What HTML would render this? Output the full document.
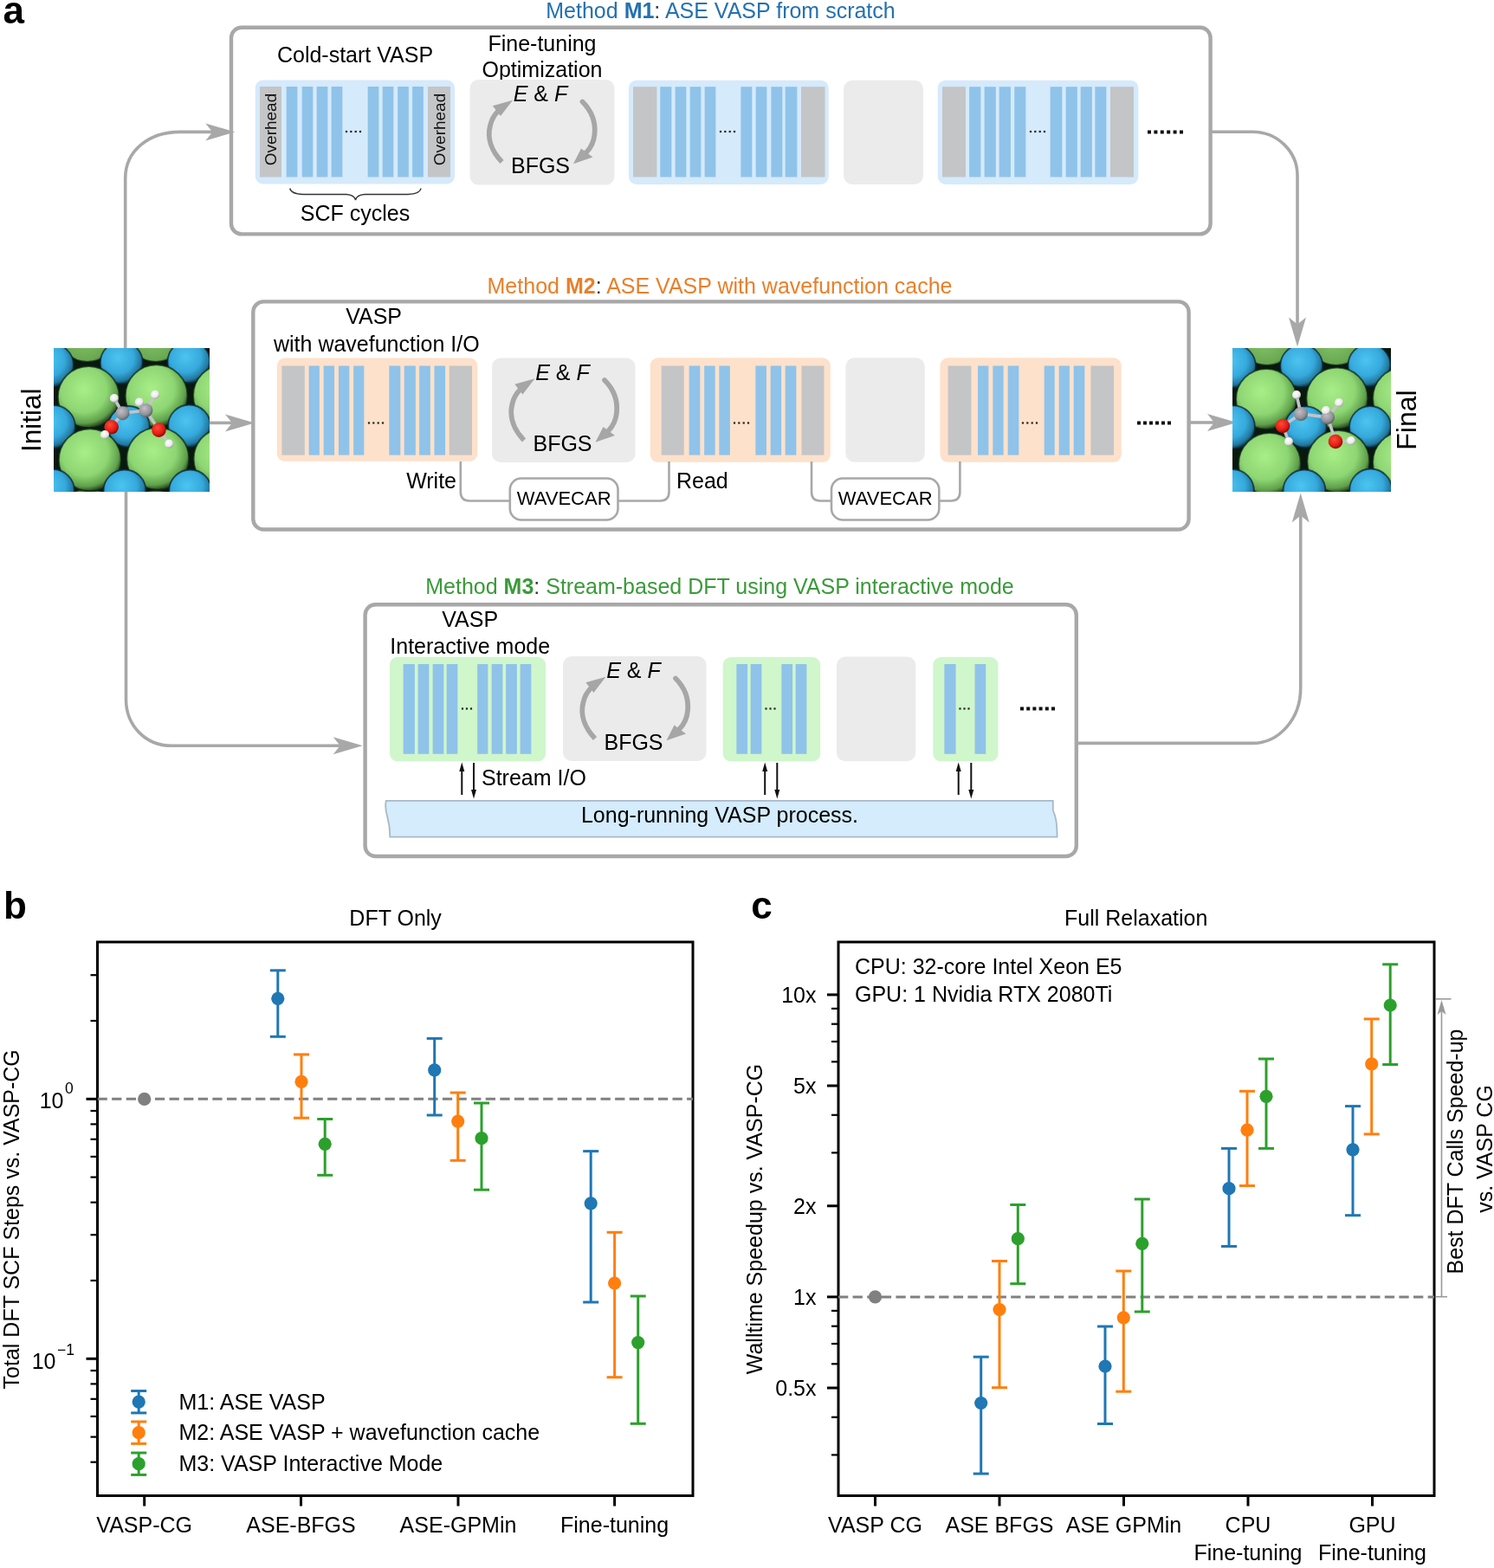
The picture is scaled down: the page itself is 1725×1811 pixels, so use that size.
<!DOCTYPE html>
<html><head><meta charset="utf-8"><title>Figure</title>
<style>html,body{margin:0;padding:0;background:#fff;} svg{display:block;} text{font-family:'Liberation Sans', Arial, sans-serif;}</style>
</head><body>
<svg width="1725" height="1811" viewBox="0 0 1725 1811">
<rect width="1725" height="1811" fill="#fff"/>
<text x="3.5" y="26.5" font-size="44" text-anchor="start" fill="#000" font-weight="bold" font-style="normal" >a</text>
<g fill="none" stroke="#a8a8a8" stroke-width="3.6">
<path d="M144.7,402 L144.7,206 C144.7,174 172,152.4 207.7,152.4 L248,152.4"/>
<path d="M242,488.4 L270,488.4"/>
<path d="M145.5,568 L145.5,807.8 C145.5,838 168,861.3 198,861.3 L395,861.3"/>
<path d="M1398,152.3 L1446,152.3 C1475,152.3 1498,175 1498,202.8 L1498,380"/>
<path d="M1373,488 L1405,488"/>
<path d="M1243,858.4 L1446,858.4 C1477,858.4 1501.7,830 1501.7,795 L1501.7,590"/>
</g>
<path d="M271.3,152.4 L237.3,142.4 L245.3,152.4 L237.3,162.4 Z" fill="#a8a8a8"/>
<path d="M294.0,488.4 L260.0,478.4 L268.0,488.4 L260.0,498.4 Z" fill="#a8a8a8"/>
<path d="M418.7,861.3 L384.7,851.3 L392.7,861.3 L384.7,871.3 Z" fill="#a8a8a8"/>
<path d="M1498.0,400.5 L1488.0,366.5 L1498.0,374.5 L1508.0,366.5 Z" fill="#a8a8a8"/>
<path d="M1428.0,488.0 L1394.0,478.0 L1402.0,488.0 L1394.0,498.0 Z" fill="#a8a8a8"/>
<path d="M1501.7,569.6 L1491.7,603.6 L1501.7,595.6 L1511.7,603.6 Z" fill="#a8a8a8"/>
<rect x="267" y="31.7" width="1130.6" height="238.7" rx="12" fill="none" stroke="#a8a8a8" stroke-width="4.4"/>
<rect x="292.3" y="348.4" width="1080.3" height="263.1" rx="12" fill="none" stroke="#a8a8a8" stroke-width="4.4"/>
<rect x="421.6" y="698.3" width="821.1999999999999" height="290.70000000000005" rx="12" fill="none" stroke="#a8a8a8" stroke-width="4.4"/>
<text x="832" y="21.2" font-size="25" text-anchor="middle" fill="#2471b0">Method <tspan font-weight="bold">M1</tspan><tspan fill="#333">:</tspan> ASE VASP from scratch</text>
<text x="831" y="339" font-size="25" text-anchor="middle" fill="#e8802c">Method <tspan font-weight="bold">M2</tspan><tspan fill="#333">:</tspan> ASE VASP with wavefunction cache</text>
<text x="831" y="686" font-size="25" text-anchor="middle" fill="#3a9a3a">Method <tspan font-weight="bold">M3</tspan><tspan fill="#333">:</tspan> Stream-based DFT using VASP interactive mode</text>
<rect x="294.7" y="92.5" width="230.3" height="120.0" rx="9" fill="#d5eafb"/>
<rect x="300" y="100" width="25" height="104.5" fill="#c4c5c7"/>
<rect x="494" y="100" width="26" height="104.5" fill="#c4c5c7"/>
<rect x="330.65" y="100" width="12.70" height="104.5" fill="#8fc3ea"/>
<rect x="348.65" y="100" width="12.70" height="104.5" fill="#8fc3ea"/>
<rect x="365.65" y="100" width="12.70" height="104.5" fill="#8fc3ea"/>
<rect x="382.65" y="100" width="12.70" height="104.5" fill="#8fc3ea"/>
<rect x="424.65" y="100" width="12.70" height="104.5" fill="#8fc3ea"/>
<rect x="441.65" y="100" width="12.70" height="104.5" fill="#8fc3ea"/>
<rect x="459.15" y="100" width="12.70" height="104.5" fill="#8fc3ea"/>
<rect x="476.15" y="100" width="12.70" height="104.5" fill="#8fc3ea"/>
<rect x="398.9" y="150.9" width="2.2" height="2.2" fill="#222"/>
<rect x="404.2" y="150.9" width="2.2" height="2.2" fill="#222"/>
<rect x="409.6" y="150.9" width="2.2" height="2.2" fill="#222"/>
<rect x="414.9" y="150.9" width="2.2" height="2.2" fill="#222"/>
<rect x="725.9" y="92.7" width="230.80000000000007" height="120.2" rx="9" fill="#d5eafb"/>
<rect x="731" y="100.2" width="27.399999999999977" height="104.3" fill="#c4c5c7"/>
<rect x="925" y="100.2" width="27.5" height="104.3" fill="#c4c5c7"/>
<rect x="762.25" y="100.2" width="13.10" height="104.3" fill="#8fc3ea"/>
<rect x="779.65" y="100.2" width="12.70" height="104.3" fill="#8fc3ea"/>
<rect x="796.65" y="100.2" width="12.70" height="104.3" fill="#8fc3ea"/>
<rect x="813.65" y="100.2" width="12.70" height="104.3" fill="#8fc3ea"/>
<rect x="855.35" y="100.2" width="13.00" height="104.3" fill="#8fc3ea"/>
<rect x="872.65" y="100.2" width="12.70" height="104.3" fill="#8fc3ea"/>
<rect x="890.35" y="100.2" width="13.00" height="104.3" fill="#8fc3ea"/>
<rect x="906.65" y="100.2" width="13.70" height="104.3" fill="#8fc3ea"/>
<rect x="830.9" y="150.9" width="2.2" height="2.2" fill="#222"/>
<rect x="836.2" y="150.9" width="2.2" height="2.2" fill="#222"/>
<rect x="841.6" y="150.9" width="2.2" height="2.2" fill="#222"/>
<rect x="846.9" y="150.9" width="2.2" height="2.2" fill="#222"/>
<rect x="974" y="92.7" width="92" height="120.2" rx="10" fill="#ebebeb"/>
<rect x="1082.7" y="92.7" width="231.70000000000005" height="120.2" rx="9" fill="#d5eafb"/>
<rect x="1088" y="100.2" width="27" height="104.3" fill="#c4c5c7"/>
<rect x="1282" y="100.2" width="27" height="104.3" fill="#c4c5c7"/>
<rect x="1119.15" y="100.2" width="13.20" height="104.3" fill="#8fc3ea"/>
<rect x="1136.65" y="100.2" width="13.20" height="104.3" fill="#8fc3ea"/>
<rect x="1153.65" y="100.2" width="13.30" height="104.3" fill="#8fc3ea"/>
<rect x="1171.25" y="100.2" width="13.10" height="104.3" fill="#8fc3ea"/>
<rect x="1212.65" y="100.2" width="13.70" height="104.3" fill="#8fc3ea"/>
<rect x="1230.65" y="100.2" width="13.20" height="104.3" fill="#8fc3ea"/>
<rect x="1247.65" y="100.2" width="13.20" height="104.3" fill="#8fc3ea"/>
<rect x="1264.35" y="100.2" width="13.00" height="104.3" fill="#8fc3ea"/>
<rect x="1188.9" y="150.9" width="2.2" height="2.2" fill="#222"/>
<rect x="1194.2" y="150.9" width="2.2" height="2.2" fill="#222"/>
<rect x="1199.6" y="150.9" width="2.2" height="2.2" fill="#222"/>
<rect x="1204.9" y="150.9" width="2.2" height="2.2" fill="#222"/>
<rect x="1325.0" y="150.5" width="4" height="4" fill="#111"/>
<rect x="1332.4" y="150.5" width="4" height="4" fill="#111"/>
<rect x="1339.8" y="150.5" width="4" height="4" fill="#111"/>
<rect x="1347.2" y="150.5" width="4" height="4" fill="#111"/>
<rect x="1354.6" y="150.5" width="4" height="4" fill="#111"/>
<rect x="1362.0" y="150.5" width="4" height="4" fill="#111"/>
<text transform="translate(319.0,149.5) rotate(-90)" x="0" y="0" font-size="19" text-anchor="middle" fill="#111">Overhead</text>
<text transform="translate(513.5,149.5) rotate(-90)" x="0" y="0" font-size="19" text-anchor="middle" fill="#111">Overhead</text>
<text x="410" y="72" font-size="25" text-anchor="middle" fill="#000" font-weight="normal" font-style="normal" >Cold-start VASP</text>
<text x="626" y="58.7" font-size="25" text-anchor="middle" fill="#000" font-weight="normal" font-style="normal" >Fine-tuning</text>
<text x="626" y="88.5" font-size="25" text-anchor="middle" fill="#000" font-weight="normal" font-style="normal" >Optimization</text>
<text x="410" y="254.7" font-size="25" text-anchor="middle" fill="#000" font-weight="normal" font-style="normal" >SCF cycles</text>
<path d="M334.7,217.5 Q336,224 350,224.5 L400,224.5 Q409,225 410.5,231 Q412,225 421,224.5 L471,224.5 Q485,224 486,217.5" fill="none" stroke="#333" stroke-width="1.3"/>
<rect x="542.5" y="92" width="167.0" height="121.6" rx="10" fill="#ebebeb"/>
<g transform="translate(0,0)">
<text x="624" y="117.4" font-size="25" text-anchor="middle"><tspan font-style="italic">E</tspan> &amp; <tspan font-style="italic">F</tspan></text>
<text x="624" y="199.7" font-size="25" text-anchor="middle">BFGS</text>
<path d="M579.5,187 C568,175 562,160 566,145 C567.5,138 570.5,133 575,128.5" fill="none" stroke="#a6a6a6" stroke-width="5.8"/>
<path d="M568.8,122.2 L592,115.7 L578,134 Z" fill="#a6a6a6"/>
<path d="M672.5,117.5 C682,127 688,140 686.5,155 C685.5,165 681,172 677,176" fill="none" stroke="#a6a6a6" stroke-width="5.8" stroke-linecap="round"/>
<path d="M684.5,181.5 L662,189.2 L671,171.5 Z" fill="#a6a6a6"/>
</g>
<text x="431.6" y="374" font-size="25" text-anchor="middle" fill="#000" font-weight="normal" font-style="normal" >VASP</text>
<text x="434.8" y="406" font-size="25" text-anchor="middle" fill="#000" font-weight="normal" font-style="normal" >with wavefunction I/O</text>
<rect x="319.8" y="413.5" width="231.49999999999994" height="119.29999999999995" rx="9" fill="#fde1cb"/>
<rect x="325.4" y="422.5" width="26.400000000000034" height="103.10000000000002" fill="#c4c5c7"/>
<rect x="518.7" y="422.5" width="26.299999999999955" height="103.10000000000002" fill="#c4c5c7"/>
<rect x="356.65" y="422.5" width="12.20" height="103.10000000000002" fill="#8fc3ea"/>
<rect x="373.65" y="422.5" width="12.40" height="103.10000000000002" fill="#8fc3ea"/>
<rect x="390.95" y="422.5" width="12.40" height="103.10000000000002" fill="#8fc3ea"/>
<rect x="408.15" y="422.5" width="12.20" height="103.10000000000002" fill="#8fc3ea"/>
<rect x="449.35" y="422.5" width="13.00" height="103.10000000000002" fill="#8fc3ea"/>
<rect x="466.65" y="422.5" width="13.20" height="103.10000000000002" fill="#8fc3ea"/>
<rect x="484.15" y="422.5" width="12.70" height="103.10000000000002" fill="#8fc3ea"/>
<rect x="501.45" y="422.5" width="12.60" height="103.10000000000002" fill="#8fc3ea"/>
<rect x="424.9" y="487.4" width="2.2" height="2.2" fill="#222"/>
<rect x="430.2" y="487.4" width="2.2" height="2.2" fill="#222"/>
<rect x="435.6" y="487.4" width="2.2" height="2.2" fill="#222"/>
<rect x="440.9" y="487.4" width="2.2" height="2.2" fill="#222"/>
<rect x="568" y="413.5" width="165.5" height="120.5" rx="10" fill="#ebebeb"/>
<g transform="translate(25.5,321.5)">
<text x="624" y="117.4" font-size="25" text-anchor="middle"><tspan font-style="italic">E</tspan> &amp; <tspan font-style="italic">F</tspan></text>
<text x="624" y="199.7" font-size="25" text-anchor="middle">BFGS</text>
<path d="M579.5,187 C568,175 562,160 566,145 C567.5,138 570.5,133 575,128.5" fill="none" stroke="#a6a6a6" stroke-width="5.8"/>
<path d="M568.8,122.2 L592,115.7 L578,134 Z" fill="#a6a6a6"/>
<path d="M672.5,117.5 C682,127 688,140 686.5,155 C685.5,165 681,172 677,176" fill="none" stroke="#a6a6a6" stroke-width="5.8" stroke-linecap="round"/>
<path d="M684.5,181.5 L662,189.2 L671,171.5 Z" fill="#a6a6a6"/>
</g>
<rect x="750.7" y="413.3" width="208.0999999999999" height="120.49999999999994" rx="9" fill="#fde1cb"/>
<rect x="763.7" y="422.5" width="26.0" height="103.10000000000002" fill="#c4c5c7"/>
<rect x="925.5" y="422.5" width="26.0" height="103.10000000000002" fill="#c4c5c7"/>
<rect x="795.65" y="422.5" width="12.70" height="103.10000000000002" fill="#8fc3ea"/>
<rect x="813.15" y="422.5" width="12.50" height="103.10000000000002" fill="#8fc3ea"/>
<rect x="830.35" y="422.5" width="12.50" height="103.10000000000002" fill="#8fc3ea"/>
<rect x="872.35" y="422.5" width="12.60" height="103.10000000000002" fill="#8fc3ea"/>
<rect x="889.65" y="422.5" width="12.50" height="103.10000000000002" fill="#8fc3ea"/>
<rect x="906.65" y="422.5" width="12.70" height="103.10000000000002" fill="#8fc3ea"/>
<rect x="846.9" y="487.4" width="2.2" height="2.2" fill="#222"/>
<rect x="852.2" y="487.4" width="2.2" height="2.2" fill="#222"/>
<rect x="857.6" y="487.4" width="2.2" height="2.2" fill="#222"/>
<rect x="862.9" y="487.4" width="2.2" height="2.2" fill="#222"/>
<rect x="976.4" y="413.3" width="91.4" height="120.5" rx="10" fill="#ebebeb"/>
<rect x="1085.4" y="413.3" width="209.29999999999995" height="120.49999999999994" rx="9" fill="#fde1cb"/>
<rect x="1094.6" y="422.5" width="26.800000000000182" height="103.10000000000002" fill="#c4c5c7"/>
<rect x="1259.5" y="422.5" width="26.5" height="103.10000000000002" fill="#c4c5c7"/>
<rect x="1129.05" y="422.5" width="12.30" height="103.10000000000002" fill="#8fc3ea"/>
<rect x="1146.35" y="422.5" width="12.30" height="103.10000000000002" fill="#8fc3ea"/>
<rect x="1163.65" y="422.5" width="12.70" height="103.10000000000002" fill="#8fc3ea"/>
<rect x="1205.65" y="422.5" width="12.10" height="103.10000000000002" fill="#8fc3ea"/>
<rect x="1222.65" y="422.5" width="12.30" height="103.10000000000002" fill="#8fc3ea"/>
<rect x="1239.65" y="422.5" width="12.70" height="103.10000000000002" fill="#8fc3ea"/>
<rect x="1179.9" y="487.4" width="2.2" height="2.2" fill="#222"/>
<rect x="1185.2" y="487.4" width="2.2" height="2.2" fill="#222"/>
<rect x="1190.6" y="487.4" width="2.2" height="2.2" fill="#222"/>
<rect x="1195.9" y="487.4" width="2.2" height="2.2" fill="#222"/>
<rect x="1313.0" y="486.5" width="4" height="4" fill="#111"/>
<rect x="1320.0" y="486.5" width="4" height="4" fill="#111"/>
<rect x="1327.0" y="486.5" width="4" height="4" fill="#111"/>
<rect x="1334.0" y="486.5" width="4" height="4" fill="#111"/>
<rect x="1341.0" y="486.5" width="4" height="4" fill="#111"/>
<rect x="1348.0" y="486.5" width="4" height="4" fill="#111"/>
<text x="527" y="563.8" font-size="25" text-anchor="end" fill="#000" font-weight="normal" font-style="normal" >Write</text>
<text x="781" y="564.4" font-size="25" text-anchor="start" fill="#000" font-weight="normal" font-style="normal" >Read</text>
<g fill="none" stroke="#a8a8a8" stroke-width="2.6">
<path d="M531.8,533 L531.8,568 Q531.8,578.5 542,578.5 L589,578.5"/>
<path d="M713.5,578.5 L762,578.5 Q772.5,578.5 772.5,568 L772.5,533"/>
<path d="M937,533 L937,568 Q937,578.5 947,578.5 L960,578.5"/>
<path d="M1084.3,578.5 L1098,578.5 Q1108.4,578.5 1108.4,568 L1108.4,533"/>
</g>
<rect x="588.8" y="552.5" width="124.70000000000005" height="48" rx="13" fill="#fff" stroke="#a8a8a8" stroke-width="2.6"/>
<text x="651.15" y="583.3" font-size="22" text-anchor="middle" fill="#000" font-weight="normal" font-style="normal" >WAVECAR</text>
<rect x="960" y="552.5" width="124.29999999999995" height="48" rx="13" fill="#fff" stroke="#a8a8a8" stroke-width="2.6"/>
<text x="1022.15" y="583.3" font-size="22" text-anchor="middle" fill="#000" font-weight="normal" font-style="normal" >WAVECAR</text>
<text x="542.7" y="724" font-size="25" text-anchor="middle" fill="#000" font-weight="normal" font-style="normal" >VASP</text>
<text x="542.7" y="755" font-size="25" text-anchor="middle" fill="#000" font-weight="normal" font-style="normal" >Interactive mode</text>
<rect x="450" y="758.8" width="180" height="120.5" rx="9" fill="#d0f6cb"/>
<rect x="465.65" y="767" width="13.20" height="103.79999999999995" fill="#8fc3ea"/>
<rect x="482.65" y="767" width="12.70" height="103.79999999999995" fill="#8fc3ea"/>
<rect x="499.65" y="767" width="12.70" height="103.79999999999995" fill="#8fc3ea"/>
<rect x="515.65" y="767" width="12.70" height="103.79999999999995" fill="#8fc3ea"/>
<rect x="551.15" y="767" width="12.20" height="103.79999999999995" fill="#8fc3ea"/>
<rect x="567.65" y="767" width="12.70" height="103.79999999999995" fill="#8fc3ea"/>
<rect x="584.15" y="767" width="12.70" height="103.79999999999995" fill="#8fc3ea"/>
<rect x="600.65" y="767" width="12.70" height="103.79999999999995" fill="#8fc3ea"/>
<rect x="532.9" y="817.4" width="2.2" height="2.2" fill="#222"/>
<rect x="537.9" y="817.4" width="2.2" height="2.2" fill="#222"/>
<rect x="542.9" y="817.4" width="2.2" height="2.2" fill="#222"/>
<rect x="650" y="758" width="165.5" height="121" rx="10" fill="#ebebeb"/>
<g transform="translate(107.5,666)">
<text x="624" y="117.4" font-size="25" text-anchor="middle"><tspan font-style="italic">E</tspan> &amp; <tspan font-style="italic">F</tspan></text>
<text x="624" y="199.7" font-size="25" text-anchor="middle">BFGS</text>
<path d="M579.5,187 C568,175 562,160 566,145 C567.5,138 570.5,133 575,128.5" fill="none" stroke="#a6a6a6" stroke-width="5.8"/>
<path d="M568.8,122.2 L592,115.7 L578,134 Z" fill="#a6a6a6"/>
<path d="M672.5,117.5 C682,127 688,140 686.5,155 C685.5,165 681,172 677,176" fill="none" stroke="#a6a6a6" stroke-width="5.8" stroke-linecap="round"/>
<path d="M684.5,181.5 L662,189.2 L671,171.5 Z" fill="#a6a6a6"/>
</g>
<rect x="834.7" y="759" width="112.5" height="120.29999999999995" rx="9" fill="#d0f6cb"/>
<rect x="850.35" y="767" width="12.70" height="103.79999999999995" fill="#8fc3ea"/>
<rect x="866.65" y="767" width="12.70" height="103.79999999999995" fill="#8fc3ea"/>
<rect x="902.35" y="767" width="12.70" height="103.79999999999995" fill="#8fc3ea"/>
<rect x="918.65" y="767" width="12.70" height="103.79999999999995" fill="#8fc3ea"/>
<rect x="883.4" y="817.4" width="2.2" height="2.2" fill="#222"/>
<rect x="888.4" y="817.4" width="2.2" height="2.2" fill="#222"/>
<rect x="893.4" y="817.4" width="2.2" height="2.2" fill="#222"/>
<rect x="965.9" y="758.5" width="91.4" height="120.8" rx="10" fill="#ebebeb"/>
<rect x="1077.3" y="759" width="75.20000000000005" height="120.29999999999995" rx="9" fill="#d0f6cb"/>
<rect x="1090.35" y="767" width="13.20" height="103.79999999999995" fill="#8fc3ea"/>
<rect x="1125.55" y="767" width="12.70" height="103.79999999999995" fill="#8fc3ea"/>
<rect x="1107.4" y="817.4" width="2.2" height="2.2" fill="#222"/>
<rect x="1112.4" y="817.4" width="2.2" height="2.2" fill="#222"/>
<rect x="1117.4" y="817.4" width="2.2" height="2.2" fill="#222"/>
<rect x="1178.0" y="816.5" width="4" height="4" fill="#111"/>
<rect x="1185.2" y="816.5" width="4" height="4" fill="#111"/>
<rect x="1192.4" y="816.5" width="4" height="4" fill="#111"/>
<rect x="1199.6" y="816.5" width="4" height="4" fill="#111"/>
<rect x="1206.8" y="816.5" width="4" height="4" fill="#111"/>
<rect x="1214.0" y="816.5" width="4" height="4" fill="#111"/>
<line x1="533.3" y1="918" x2="533.3" y2="888" stroke="#111" stroke-width="2"/>
<path d="M533.3,880.5 L530.3,891 L536.3,891 Z" fill="#111"/>
<line x1="547" y1="881" x2="547" y2="914" stroke="#111" stroke-width="2"/>
<path d="M547,922.5 L544,912 L550,912 Z" fill="#111"/>
<line x1="883.2" y1="918" x2="883.2" y2="888" stroke="#111" stroke-width="2"/>
<path d="M883.2,880.5 L880.2,891 L886.2,891 Z" fill="#111"/>
<line x1="897.3" y1="881" x2="897.3" y2="914" stroke="#111" stroke-width="2"/>
<path d="M897.3,922.5 L894.3,912 L900.3,912 Z" fill="#111"/>
<line x1="1106.7" y1="918" x2="1106.7" y2="888" stroke="#111" stroke-width="2"/>
<path d="M1106.7,880.5 L1103.7,891 L1109.7,891 Z" fill="#111"/>
<line x1="1121.3" y1="881" x2="1121.3" y2="914" stroke="#111" stroke-width="2"/>
<path d="M1121.3,922.5 L1118.3,912 L1124.3,912 Z" fill="#111"/>
<text x="556" y="907" font-size="25" text-anchor="start" fill="#000" font-weight="normal" font-style="normal" >Stream I/O</text>
<path d="M445.8,924.8 L1215.8,924.8 L1215.8,936 C1218.5,942 1220.5,948 1220.6,966.7 L450.2,966.7 C450.4,958 449.5,952 447.6,945 C445,936 444.5,930 445.8,924.8 Z" fill="#d4ecfc" stroke="#a8b8c8" stroke-width="1.8"/>
<text x="831" y="950" font-size="25" text-anchor="middle" fill="#000" font-weight="normal" font-style="normal" >Long-running VASP process.</text>
<defs>
<radialGradient id="gG" cx="0.42" cy="0.38" r="0.62"><stop offset="0" stop-color="#a8ee88"/><stop offset="0.6" stop-color="#8ed673"/><stop offset="0.88" stop-color="#5f9f4a"/><stop offset="1" stop-color="#2a4a22"/></radialGradient>
<radialGradient id="gGb" cx="0.45" cy="0.55" r="0.6"><stop offset="0" stop-color="#86c86a"/><stop offset="0.7" stop-color="#6aa852"/><stop offset="1" stop-color="#2e5228"/></radialGradient>
<radialGradient id="gB" cx="0.42" cy="0.38" r="0.62"><stop offset="0" stop-color="#4cc4f0"/><stop offset="0.6" stop-color="#35a9dc"/><stop offset="0.88" stop-color="#22789e"/><stop offset="1" stop-color="#0e3a4a"/></radialGradient>
<radialGradient id="gC" cx="0.4" cy="0.35" r="0.65"><stop offset="0" stop-color="#c0c0c6"/><stop offset="0.7" stop-color="#929298"/><stop offset="1" stop-color="#606066"/></radialGradient>
<radialGradient id="gO" cx="0.4" cy="0.35" r="0.65"><stop offset="0" stop-color="#ff4a3a"/><stop offset="0.7" stop-color="#e01a10"/><stop offset="1" stop-color="#8a0a05"/></radialGradient>
<radialGradient id="gH" cx="0.4" cy="0.35" r="0.65"><stop offset="0" stop-color="#ffffff"/><stop offset="0.7" stop-color="#e8e8e8"/><stop offset="1" stop-color="#a0a0a0"/></radialGradient>
<clipPath id="clipI"><rect x="62" y="402" width="180" height="166"/></clipPath>
<clipPath id="clipF"><rect x="1423" y="402" width="183" height="166"/></clipPath>
</defs>
<g clip-path="url(#clipI)">
<rect x="62" y="402" width="180" height="166" fill="#09190f"/>
<circle cx="101" cy="384" r="34" fill="url(#gGb)" stroke="#0a1d12" stroke-width="2" stroke-opacity="0.7"/>
<circle cx="180" cy="384" r="34" fill="url(#gGb)" stroke="#0a1d12" stroke-width="2" stroke-opacity="0.7"/>
<circle cx="102" cy="598" r="34" fill="url(#gGb)" stroke="#0a1d12" stroke-width="2" stroke-opacity="0.7"/>
<circle cx="180" cy="600" r="34" fill="url(#gGb)" stroke="#0a1d12" stroke-width="2" stroke-opacity="0.7"/>
<circle cx="218" cy="418" r="24.5" fill="url(#gB)" stroke="#0a2430" stroke-width="1.8" stroke-opacity="0.75"/>
<circle cx="140.3" cy="419" r="24.5" fill="url(#gB)" stroke="#0a2430" stroke-width="1.8" stroke-opacity="0.75"/>
<circle cx="60" cy="422" r="25" fill="url(#gB)" stroke="#0a2430" stroke-width="1.8" stroke-opacity="0.75"/>
<circle cx="258.5" cy="457" r="35.5" fill="url(#gG)" stroke="#0d2412" stroke-width="2" stroke-opacity="0.7"/>
<circle cx="180.6" cy="457.3" r="36" fill="url(#gG)" stroke="#0d2412" stroke-width="2" stroke-opacity="0.7"/>
<circle cx="102.3" cy="458.5" r="35.5" fill="url(#gG)" stroke="#0d2412" stroke-width="2" stroke-opacity="0.7"/>
<circle cx="218.6" cy="492" r="24.5" fill="url(#gB)" stroke="#0a2430" stroke-width="1.8" stroke-opacity="0.75"/>
<circle cx="62" cy="493" r="25" fill="url(#gB)" stroke="#0a2430" stroke-width="1.8" stroke-opacity="0.75"/>
<circle cx="148.9" cy="493" r="24" fill="url(#gB)" stroke="#0a2430" stroke-width="1.8" stroke-opacity="0.75"/>
<circle cx="182.2" cy="529.7" r="36" fill="url(#gG)" stroke="#0d2412" stroke-width="2" stroke-opacity="0.7"/>
<circle cx="259" cy="530" r="35.5" fill="url(#gG)" stroke="#0d2412" stroke-width="2" stroke-opacity="0.7"/>
<circle cx="103.8" cy="531.3" r="36" fill="url(#gG)" stroke="#0d2412" stroke-width="2" stroke-opacity="0.7"/>
<circle cx="61" cy="567" r="25" fill="url(#gB)" stroke="#0a2430" stroke-width="1.8" stroke-opacity="0.75"/>
<circle cx="144" cy="567" r="24.5" fill="url(#gB)" stroke="#0a2430" stroke-width="1.8" stroke-opacity="0.75"/>
<circle cx="219.7" cy="567" r="24.5" fill="url(#gB)" stroke="#0a2430" stroke-width="1.8" stroke-opacity="0.75"/>
<line x1="141.5" y1="477.2" x2="168.4" y2="474" stroke="#c4c4c8" stroke-width="3.6"/>
<line x1="141.5" y1="477.2" x2="128.7" y2="493.3" stroke="#c4c4c8" stroke-width="3.6"/>
<line x1="168.4" y1="474" x2="183.4" y2="496.6" stroke="#c4c4c8" stroke-width="3.6"/>
<line x1="141.5" y1="477.2" x2="131.9" y2="460" stroke="#c4c4c8" stroke-width="3.6"/>
<line x1="168.4" y1="474" x2="160.9" y2="464.4" stroke="#c4c4c8" stroke-width="3.6"/>
<line x1="168.4" y1="474" x2="179.1" y2="455.8" stroke="#c4c4c8" stroke-width="3.6"/>
<line x1="128.7" y1="493.3" x2="121.1" y2="502" stroke="#c4c4c8" stroke-width="3.6"/>
<line x1="183.4" y1="496.6" x2="195.2" y2="512.6" stroke="#c4c4c8" stroke-width="3.6"/>
<circle cx="141.5" cy="477.2" r="8.0" fill="url(#gC)"/>
<circle cx="168.4" cy="474" r="8.0" fill="url(#gC)"/>
<circle cx="128.7" cy="493.3" r="8.3" fill="url(#gO)"/>
<circle cx="183.4" cy="496.6" r="8.3" fill="url(#gO)"/>
<circle cx="131.9" cy="460" r="5.0" fill="url(#gH)"/>
<circle cx="160.9" cy="464.4" r="5.0" fill="url(#gH)"/>
<circle cx="179.1" cy="455.8" r="5.0" fill="url(#gH)"/>
<circle cx="121.1" cy="502" r="5.0" fill="url(#gH)"/>
<circle cx="195.2" cy="512.6" r="5.0" fill="url(#gH)"/>
</g>
<g clip-path="url(#clipF)">
<rect x="1423" y="402" width="183" height="166" fill="#09190f"/>
<circle cx="1463" cy="388" r="34" fill="url(#gGb)" stroke="#0a1d12" stroke-width="2" stroke-opacity="0.7"/>
<circle cx="1543" cy="388" r="34" fill="url(#gGb)" stroke="#0a1d12" stroke-width="2" stroke-opacity="0.7"/>
<circle cx="1465" cy="604" r="34" fill="url(#gGb)" stroke="#0a1d12" stroke-width="2" stroke-opacity="0.7"/>
<circle cx="1545" cy="604" r="34" fill="url(#gGb)" stroke="#0a1d12" stroke-width="2" stroke-opacity="0.7"/>
<circle cx="1581" cy="422" r="24.5" fill="url(#gB)" stroke="#0a2430" stroke-width="1.8" stroke-opacity="0.75"/>
<circle cx="1502.8" cy="422.7" r="24.5" fill="url(#gB)" stroke="#0a2430" stroke-width="1.8" stroke-opacity="0.75"/>
<circle cx="1425" cy="423" r="25" fill="url(#gB)" stroke="#0a2430" stroke-width="1.8" stroke-opacity="0.75"/>
<circle cx="1543.8" cy="460" r="35.5" fill="url(#gG)" stroke="#0d2412" stroke-width="2" stroke-opacity="0.7"/>
<circle cx="1620.5" cy="460" r="35.5" fill="url(#gG)" stroke="#0d2412" stroke-width="2" stroke-opacity="0.7"/>
<circle cx="1462" cy="460.9" r="35" fill="url(#gG)" stroke="#0d2412" stroke-width="2" stroke-opacity="0.7"/>
<circle cx="1582" cy="493" r="24" fill="url(#gB)" stroke="#0a2430" stroke-width="1.8" stroke-opacity="0.75"/>
<circle cx="1424" cy="493.4" r="25" fill="url(#gB)" stroke="#0a2430" stroke-width="1.8" stroke-opacity="0.75"/>
<circle cx="1507.8" cy="493.4" r="24" fill="url(#gB)" stroke="#0a2430" stroke-width="1.8" stroke-opacity="0.75"/>
<circle cx="1545.3" cy="533" r="36" fill="url(#gG)" stroke="#0d2412" stroke-width="2" stroke-opacity="0.7"/>
<circle cx="1620.5" cy="534" r="35.5" fill="url(#gG)" stroke="#0d2412" stroke-width="2" stroke-opacity="0.7"/>
<circle cx="1466" cy="536" r="36" fill="url(#gG)" stroke="#0d2412" stroke-width="2" stroke-opacity="0.7"/>
<circle cx="1582.7" cy="566" r="24.5" fill="url(#gB)" stroke="#0a2430" stroke-width="1.8" stroke-opacity="0.75"/>
<circle cx="1423" cy="567" r="25" fill="url(#gB)" stroke="#0a2430" stroke-width="1.8" stroke-opacity="0.75"/>
<circle cx="1506" cy="567" r="24.5" fill="url(#gB)" stroke="#0a2430" stroke-width="1.8" stroke-opacity="0.75"/>
<line x1="1502" y1="478" x2="1533" y2="482" stroke="#c4c4c8" stroke-width="3.6"/>
<line x1="1502" y1="478" x2="1481" y2="492" stroke="#c4c4c8" stroke-width="3.6"/>
<line x1="1533" y1="482" x2="1542" y2="510" stroke="#c4c4c8" stroke-width="3.6"/>
<line x1="1502" y1="478" x2="1497" y2="456" stroke="#c4c4c8" stroke-width="3.6"/>
<line x1="1533" y1="482" x2="1531" y2="474" stroke="#c4c4c8" stroke-width="3.6"/>
<line x1="1533" y1="482" x2="1546" y2="465" stroke="#c4c4c8" stroke-width="3.6"/>
<line x1="1481" y1="492" x2="1488" y2="510" stroke="#c4c4c8" stroke-width="3.6"/>
<line x1="1542" y1="510" x2="1560" y2="509" stroke="#c4c4c8" stroke-width="3.6"/>
<circle cx="1502" cy="478" r="8.0" fill="url(#gC)"/>
<circle cx="1533" cy="482" r="8.0" fill="url(#gC)"/>
<circle cx="1481" cy="492" r="8.3" fill="url(#gO)"/>
<circle cx="1542" cy="510" r="8.3" fill="url(#gO)"/>
<circle cx="1497" cy="456" r="5.0" fill="url(#gH)"/>
<circle cx="1531" cy="474" r="5.0" fill="url(#gH)"/>
<circle cx="1546" cy="465" r="5.0" fill="url(#gH)"/>
<circle cx="1488" cy="510" r="5.0" fill="url(#gH)"/>
<circle cx="1560" cy="509" r="5.0" fill="url(#gH)"/>
</g>
<text transform="translate(46.7,485.3) rotate(-90)" font-size="31.5" text-anchor="middle">Initial</text>
<text transform="translate(1635,485) rotate(-90)" font-size="32" text-anchor="middle">Final</text>
<text x="4" y="1060.5" font-size="44" text-anchor="start" fill="#000" font-weight="bold" font-style="normal" >b</text>
<text x="867.3" y="1060.5" font-size="44" text-anchor="start" fill="#000" font-weight="bold" font-style="normal" >c</text>
<rect x="112.5" y="1088" width="687.5" height="639.5" fill="none" stroke="#000" stroke-width="3"/>
<line x1="112.5" y1="1269.3" x2="800" y2="1269.3" stroke="#808080" stroke-width="3" stroke-dasharray="11.3,5.3"/>
<line x1="99.5" y1="1269.3" x2="112.5" y2="1269.3" stroke="#000" stroke-width="3"/>
<line x1="99.5" y1="1569.3" x2="112.5" y2="1569.3" stroke="#000" stroke-width="3"/>
<line x1="104.5" y1="1688.7" x2="112.5" y2="1688.7" stroke="#000" stroke-width="2.2"/>
<line x1="104.5" y1="1659.6" x2="112.5" y2="1659.6" stroke="#000" stroke-width="2.2"/>
<line x1="104.5" y1="1635.9" x2="112.5" y2="1635.9" stroke="#000" stroke-width="2.2"/>
<line x1="104.5" y1="1615.8" x2="112.5" y2="1615.8" stroke="#000" stroke-width="2.2"/>
<line x1="104.5" y1="1598.4" x2="112.5" y2="1598.4" stroke="#000" stroke-width="2.2"/>
<line x1="104.5" y1="1583.0" x2="112.5" y2="1583.0" stroke="#000" stroke-width="2.2"/>
<line x1="104.5" y1="1479.0" x2="112.5" y2="1479.0" stroke="#000" stroke-width="2.2"/>
<line x1="104.5" y1="1426.2" x2="112.5" y2="1426.2" stroke="#000" stroke-width="2.2"/>
<line x1="104.5" y1="1388.7" x2="112.5" y2="1388.7" stroke="#000" stroke-width="2.2"/>
<line x1="104.5" y1="1359.6" x2="112.5" y2="1359.6" stroke="#000" stroke-width="2.2"/>
<line x1="104.5" y1="1335.9" x2="112.5" y2="1335.9" stroke="#000" stroke-width="2.2"/>
<line x1="104.5" y1="1315.8" x2="112.5" y2="1315.8" stroke="#000" stroke-width="2.2"/>
<line x1="104.5" y1="1298.4" x2="112.5" y2="1298.4" stroke="#000" stroke-width="2.2"/>
<line x1="104.5" y1="1283.0" x2="112.5" y2="1283.0" stroke="#000" stroke-width="2.2"/>
<line x1="104.5" y1="1179.0" x2="112.5" y2="1179.0" stroke="#000" stroke-width="2.2"/>
<line x1="104.5" y1="1126.2" x2="112.5" y2="1126.2" stroke="#000" stroke-width="2.2"/>
<text x="73.5" y="1280" font-size="25" text-anchor="end">10</text><text x="75" y="1263" font-size="17.5">0</text>
<text x="64.5" y="1581.3" font-size="25" text-anchor="end">10</text><text x="66" y="1565" font-size="17.5">&#8722;1</text>
<line x1="166.7" y1="1727.5" x2="166.7" y2="1739.5" stroke="#000" stroke-width="3"/>
<text x="166.7" y="1769.5" font-size="25" text-anchor="middle" fill="#000" font-weight="normal" font-style="normal" >VASP-CG</text>
<line x1="347.5" y1="1727.5" x2="347.5" y2="1739.5" stroke="#000" stroke-width="3"/>
<text x="347.5" y="1769.5" font-size="25" text-anchor="middle" fill="#000" font-weight="normal" font-style="normal" >ASE-BFGS</text>
<line x1="529" y1="1727.5" x2="529" y2="1739.5" stroke="#000" stroke-width="3"/>
<text x="529" y="1769.5" font-size="25" text-anchor="middle" fill="#000" font-weight="normal" font-style="normal" >ASE-GPMin</text>
<line x1="709.6" y1="1727.5" x2="709.6" y2="1739.5" stroke="#000" stroke-width="3"/>
<text x="709.6" y="1769.5" font-size="25" text-anchor="middle" fill="#000" font-weight="normal" font-style="normal" >Fine-tuning</text>
<text x="456.6" y="1069" font-size="25" text-anchor="middle" fill="#000" font-weight="normal" font-style="normal" >DFT Only</text>
<text transform="translate(21.5,1408.3) rotate(-90)" font-size="25" text-anchor="middle">Total DFT SCF Steps vs. VASP-CG</text>
<line x1="166.7" y1="1269.3" x2="166.7" y2="1269.3" stroke="#808080" stroke-width="0"/>
<line x1="166.7" y1="1269.3" x2="166.7" y2="1269.3" stroke="#808080" stroke-width="0"/>
<line x1="166.7" y1="1269.3" x2="166.7" y2="1269.3" stroke="#808080" stroke-width="0"/>
<circle cx="166.7" cy="1269.3" r="7.6" fill="#808080"/>
<line x1="320.8" y1="1120.8" x2="320.8" y2="1197.3" stroke="#1f77b4" stroke-width="3"/>
<line x1="311.8" y1="1120.8" x2="329.8" y2="1120.8" stroke="#1f77b4" stroke-width="3"/>
<line x1="311.8" y1="1197.3" x2="329.8" y2="1197.3" stroke="#1f77b4" stroke-width="3"/>
<circle cx="320.8" cy="1153.3" r="7.6" fill="#1f77b4"/>
<line x1="348" y1="1217.9" x2="348" y2="1291.2" stroke="#ff7f0e" stroke-width="3"/>
<line x1="339" y1="1217.9" x2="357" y2="1217.9" stroke="#ff7f0e" stroke-width="3"/>
<line x1="339" y1="1291.2" x2="357" y2="1291.2" stroke="#ff7f0e" stroke-width="3"/>
<circle cx="348" cy="1249.3" r="7.6" fill="#ff7f0e"/>
<line x1="375.2" y1="1292.5" x2="375.2" y2="1357.3" stroke="#2ca02c" stroke-width="3"/>
<line x1="366.2" y1="1292.5" x2="384.2" y2="1292.5" stroke="#2ca02c" stroke-width="3"/>
<line x1="366.2" y1="1357.3" x2="384.2" y2="1357.3" stroke="#2ca02c" stroke-width="3"/>
<circle cx="375.2" cy="1321.3" r="7.6" fill="#2ca02c"/>
<line x1="501.7" y1="1199.4" x2="501.7" y2="1288" stroke="#1f77b4" stroke-width="3"/>
<line x1="492.7" y1="1199.4" x2="510.7" y2="1199.4" stroke="#1f77b4" stroke-width="3"/>
<line x1="492.7" y1="1288" x2="510.7" y2="1288" stroke="#1f77b4" stroke-width="3"/>
<circle cx="501.7" cy="1235.9" r="7.6" fill="#1f77b4"/>
<line x1="528.7" y1="1262" x2="528.7" y2="1340.3" stroke="#ff7f0e" stroke-width="3"/>
<line x1="519.7" y1="1262" x2="537.7" y2="1262" stroke="#ff7f0e" stroke-width="3"/>
<line x1="519.7" y1="1340.3" x2="537.7" y2="1340.3" stroke="#ff7f0e" stroke-width="3"/>
<circle cx="528.7" cy="1295.1" r="7.6" fill="#ff7f0e"/>
<line x1="556" y1="1274" x2="556" y2="1374.2" stroke="#2ca02c" stroke-width="3"/>
<line x1="547" y1="1274" x2="565" y2="1274" stroke="#2ca02c" stroke-width="3"/>
<line x1="547" y1="1374.2" x2="565" y2="1374.2" stroke="#2ca02c" stroke-width="3"/>
<circle cx="556" cy="1314.7" r="7.6" fill="#2ca02c"/>
<line x1="682.2" y1="1329.6" x2="682.2" y2="1504" stroke="#1f77b4" stroke-width="3"/>
<line x1="673.2" y1="1329.6" x2="691.2" y2="1329.6" stroke="#1f77b4" stroke-width="3"/>
<line x1="673.2" y1="1504" x2="691.2" y2="1504" stroke="#1f77b4" stroke-width="3"/>
<circle cx="682.2" cy="1389.8" r="7.6" fill="#1f77b4"/>
<line x1="709.6" y1="1423.3" x2="709.6" y2="1590.7" stroke="#ff7f0e" stroke-width="3"/>
<line x1="700.6" y1="1423.3" x2="718.6" y2="1423.3" stroke="#ff7f0e" stroke-width="3"/>
<line x1="700.6" y1="1590.7" x2="718.6" y2="1590.7" stroke="#ff7f0e" stroke-width="3"/>
<circle cx="709.6" cy="1482" r="7.6" fill="#ff7f0e"/>
<line x1="736.7" y1="1497" x2="736.7" y2="1644.3" stroke="#2ca02c" stroke-width="3"/>
<line x1="727.7" y1="1497" x2="745.7" y2="1497" stroke="#2ca02c" stroke-width="3"/>
<line x1="727.7" y1="1644.3" x2="745.7" y2="1644.3" stroke="#2ca02c" stroke-width="3"/>
<circle cx="736.7" cy="1550.6" r="7.6" fill="#2ca02c"/>
<line x1="160.2" y1="1606.5" x2="160.2" y2="1631.9" stroke="#1f77b4" stroke-width="3"/>
<line x1="151.2" y1="1606.5" x2="169.2" y2="1606.5" stroke="#1f77b4" stroke-width="3"/>
<line x1="151.2" y1="1631.9" x2="169.2" y2="1631.9" stroke="#1f77b4" stroke-width="3"/>
<circle cx="160.2" cy="1619.2" r="7.6" fill="#1f77b4"/>
<text x="206.5" y="1627.5" font-size="25" text-anchor="start" fill="#000" font-weight="normal" font-style="normal" >M1: ASE VASP</text>
<line x1="160.2" y1="1642.0" x2="160.2" y2="1667.4" stroke="#ff7f0e" stroke-width="3"/>
<line x1="151.2" y1="1642.0" x2="169.2" y2="1642.0" stroke="#ff7f0e" stroke-width="3"/>
<line x1="151.2" y1="1667.4" x2="169.2" y2="1667.4" stroke="#ff7f0e" stroke-width="3"/>
<circle cx="160.2" cy="1654.7" r="7.6" fill="#ff7f0e"/>
<text x="206.5" y="1663.0" font-size="25" text-anchor="start" fill="#000" font-weight="normal" font-style="normal" >M2: ASE VASP + wavefunction cache</text>
<line x1="160.2" y1="1678.0" x2="160.2" y2="1703.4" stroke="#2ca02c" stroke-width="3"/>
<line x1="151.2" y1="1678.0" x2="169.2" y2="1678.0" stroke="#2ca02c" stroke-width="3"/>
<line x1="151.2" y1="1703.4" x2="169.2" y2="1703.4" stroke="#2ca02c" stroke-width="3"/>
<circle cx="160.2" cy="1690.7" r="7.6" fill="#2ca02c"/>
<text x="206.5" y="1699.0" font-size="25" text-anchor="start" fill="#000" font-weight="normal" font-style="normal" >M3: VASP Interactive Mode</text>
<rect x="968" y="1088" width="688" height="639.5" fill="none" stroke="#000" stroke-width="3"/>
<line x1="968" y1="1497.9" x2="1656" y2="1497.9" stroke="#808080" stroke-width="3" stroke-dasharray="11.3,5.3"/>
<line x1="955" y1="1603.0" x2="968" y2="1603.0" stroke="#000" stroke-width="3"/>
<text x="942.5" y="1611.8" font-size="25" text-anchor="end" fill="#000" font-weight="normal" font-style="normal" >0.5x</text>
<line x1="955" y1="1497.9" x2="968" y2="1497.9" stroke="#000" stroke-width="3"/>
<text x="942.5" y="1506.7" font-size="25" text-anchor="end" fill="#000" font-weight="normal" font-style="normal" >1x</text>
<line x1="955" y1="1392.8" x2="968" y2="1392.8" stroke="#000" stroke-width="3"/>
<text x="942.5" y="1401.6" font-size="25" text-anchor="end" fill="#000" font-weight="normal" font-style="normal" >2x</text>
<line x1="955" y1="1254.0" x2="968" y2="1254.0" stroke="#000" stroke-width="3"/>
<text x="942.5" y="1262.8" font-size="25" text-anchor="end" fill="#000" font-weight="normal" font-style="normal" >5x</text>
<line x1="955" y1="1148.9" x2="968" y2="1148.9" stroke="#000" stroke-width="3"/>
<text x="942.5" y="1157.7" font-size="25" text-anchor="end" fill="#000" font-weight="normal" font-style="normal" >10x</text>
<line x1="960" y1="1680.4" x2="968" y2="1680.4" stroke="#000" stroke-width="2.2"/>
<line x1="960" y1="1636.8" x2="968" y2="1636.8" stroke="#000" stroke-width="2.2"/>
<line x1="960" y1="1575.3" x2="968" y2="1575.3" stroke="#000" stroke-width="2.2"/>
<line x1="960" y1="1552.0" x2="968" y2="1552.0" stroke="#000" stroke-width="2.2"/>
<line x1="960" y1="1531.7" x2="968" y2="1531.7" stroke="#000" stroke-width="2.2"/>
<line x1="960" y1="1513.9" x2="968" y2="1513.9" stroke="#000" stroke-width="2.2"/>
<line x1="960" y1="1331.4" x2="968" y2="1331.4" stroke="#000" stroke-width="2.2"/>
<line x1="960" y1="1287.8" x2="968" y2="1287.8" stroke="#000" stroke-width="2.2"/>
<line x1="960" y1="1226.3" x2="968" y2="1226.3" stroke="#000" stroke-width="2.2"/>
<line x1="960" y1="1203.0" x2="968" y2="1203.0" stroke="#000" stroke-width="2.2"/>
<line x1="960" y1="1182.7" x2="968" y2="1182.7" stroke="#000" stroke-width="2.2"/>
<line x1="960" y1="1164.9" x2="968" y2="1164.9" stroke="#000" stroke-width="2.2"/>
<line x1="1010.5" y1="1727.5" x2="1010.5" y2="1739.5" stroke="#000" stroke-width="3"/>
<text x="1010.5" y="1769.7" font-size="25" text-anchor="middle" fill="#000" font-weight="normal" font-style="normal" >VASP CG</text>
<line x1="1154" y1="1727.5" x2="1154" y2="1739.5" stroke="#000" stroke-width="3"/>
<text x="1154" y="1769.7" font-size="25" text-anchor="middle" fill="#000" font-weight="normal" font-style="normal" >ASE BFGS</text>
<line x1="1297.5" y1="1727.5" x2="1297.5" y2="1739.5" stroke="#000" stroke-width="3"/>
<text x="1297.5" y="1769.7" font-size="25" text-anchor="middle" fill="#000" font-weight="normal" font-style="normal" >ASE GPMin</text>
<line x1="1441" y1="1727.5" x2="1441" y2="1739.5" stroke="#000" stroke-width="3"/>
<text x="1441" y="1769.7" font-size="25" text-anchor="middle" fill="#000" font-weight="normal" font-style="normal" >CPU</text>
<text x="1441" y="1802" font-size="25" text-anchor="middle" fill="#000" font-weight="normal" font-style="normal" >Fine-tuning</text>
<line x1="1584.5" y1="1727.5" x2="1584.5" y2="1739.5" stroke="#000" stroke-width="3"/>
<text x="1584.5" y="1769.7" font-size="25" text-anchor="middle" fill="#000" font-weight="normal" font-style="normal" >GPU</text>
<text x="1584.5" y="1802" font-size="25" text-anchor="middle" fill="#000" font-weight="normal" font-style="normal" >Fine-tuning</text>
<text x="1311.7" y="1069" font-size="25" text-anchor="middle" fill="#000" font-weight="normal" font-style="normal" >Full Relaxation</text>
<text transform="translate(880,1408) rotate(-90)" font-size="25" text-anchor="middle">Walltime Speedup vs. VASP-CG</text>
<text x="987" y="1124.5" font-size="25" text-anchor="start" fill="#000" font-weight="normal" font-style="normal" >CPU: 32-core Intel Xeon E5</text>
<text x="987" y="1156.5" font-size="25" text-anchor="start" fill="#000" font-weight="normal" font-style="normal" >GPU: 1 Nvidia RTX 2080Ti</text>
<line x1="1010.5" y1="1497.9" x2="1010.5" y2="1497.9" stroke="#808080" stroke-width="0"/>
<line x1="1010.5" y1="1497.9" x2="1010.5" y2="1497.9" stroke="#808080" stroke-width="0"/>
<line x1="1010.5" y1="1497.9" x2="1010.5" y2="1497.9" stroke="#808080" stroke-width="0"/>
<circle cx="1010.5" cy="1497.9" r="7.6" fill="#808080"/>
<line x1="1132.7" y1="1567.2" x2="1132.7" y2="1702.1" stroke="#1f77b4" stroke-width="3"/>
<line x1="1123.7" y1="1567.2" x2="1141.7" y2="1567.2" stroke="#1f77b4" stroke-width="3"/>
<line x1="1123.7" y1="1702.1" x2="1141.7" y2="1702.1" stroke="#1f77b4" stroke-width="3"/>
<circle cx="1132.7" cy="1620.5" r="7.6" fill="#1f77b4"/>
<line x1="1154" y1="1456.5" x2="1154" y2="1602.7" stroke="#ff7f0e" stroke-width="3"/>
<line x1="1145" y1="1456.5" x2="1163" y2="1456.5" stroke="#ff7f0e" stroke-width="3"/>
<line x1="1145" y1="1602.7" x2="1163" y2="1602.7" stroke="#ff7f0e" stroke-width="3"/>
<circle cx="1154" cy="1512.5" r="7.6" fill="#ff7f0e"/>
<line x1="1175.3" y1="1391.5" x2="1175.3" y2="1482.7" stroke="#2ca02c" stroke-width="3"/>
<line x1="1166.3" y1="1391.5" x2="1184.3" y2="1391.5" stroke="#2ca02c" stroke-width="3"/>
<line x1="1166.3" y1="1482.7" x2="1184.3" y2="1482.7" stroke="#2ca02c" stroke-width="3"/>
<circle cx="1175.3" cy="1430.7" r="7.6" fill="#2ca02c"/>
<line x1="1276" y1="1532" x2="1276" y2="1644.5" stroke="#1f77b4" stroke-width="3"/>
<line x1="1267" y1="1532" x2="1285" y2="1532" stroke="#1f77b4" stroke-width="3"/>
<line x1="1267" y1="1644.5" x2="1285" y2="1644.5" stroke="#1f77b4" stroke-width="3"/>
<circle cx="1276" cy="1578" r="7.6" fill="#1f77b4"/>
<line x1="1297.3" y1="1468" x2="1297.3" y2="1607.2" stroke="#ff7f0e" stroke-width="3"/>
<line x1="1288.3" y1="1468" x2="1306.3" y2="1468" stroke="#ff7f0e" stroke-width="3"/>
<line x1="1288.3" y1="1607.2" x2="1306.3" y2="1607.2" stroke="#ff7f0e" stroke-width="3"/>
<circle cx="1297.3" cy="1521.8" r="7.6" fill="#ff7f0e"/>
<line x1="1318.8" y1="1385" x2="1318.8" y2="1515" stroke="#2ca02c" stroke-width="3"/>
<line x1="1309.8" y1="1385" x2="1327.8" y2="1385" stroke="#2ca02c" stroke-width="3"/>
<line x1="1309.8" y1="1515" x2="1327.8" y2="1515" stroke="#2ca02c" stroke-width="3"/>
<circle cx="1318.8" cy="1436.3" r="7.6" fill="#2ca02c"/>
<line x1="1419" y1="1326.4" x2="1419" y2="1439.5" stroke="#1f77b4" stroke-width="3"/>
<line x1="1410" y1="1326.4" x2="1428" y2="1326.4" stroke="#1f77b4" stroke-width="3"/>
<line x1="1410" y1="1439.5" x2="1428" y2="1439.5" stroke="#1f77b4" stroke-width="3"/>
<circle cx="1419" cy="1372.7" r="7.6" fill="#1f77b4"/>
<line x1="1440" y1="1260.3" x2="1440" y2="1369.5" stroke="#ff7f0e" stroke-width="3"/>
<line x1="1431" y1="1260.3" x2="1449" y2="1260.3" stroke="#ff7f0e" stroke-width="3"/>
<line x1="1431" y1="1369.5" x2="1449" y2="1369.5" stroke="#ff7f0e" stroke-width="3"/>
<circle cx="1440" cy="1305.2" r="7.6" fill="#ff7f0e"/>
<line x1="1462" y1="1223" x2="1462" y2="1326.4" stroke="#2ca02c" stroke-width="3"/>
<line x1="1453" y1="1223" x2="1471" y2="1223" stroke="#2ca02c" stroke-width="3"/>
<line x1="1453" y1="1326.4" x2="1471" y2="1326.4" stroke="#2ca02c" stroke-width="3"/>
<circle cx="1462" cy="1266.3" r="7.6" fill="#2ca02c"/>
<line x1="1562" y1="1277.6" x2="1562" y2="1403.7" stroke="#1f77b4" stroke-width="3"/>
<line x1="1553" y1="1277.6" x2="1571" y2="1277.6" stroke="#1f77b4" stroke-width="3"/>
<line x1="1553" y1="1403.7" x2="1571" y2="1403.7" stroke="#1f77b4" stroke-width="3"/>
<circle cx="1562" cy="1327.8" r="7.6" fill="#1f77b4"/>
<line x1="1583.7" y1="1176.9" x2="1583.7" y2="1309.9" stroke="#ff7f0e" stroke-width="3"/>
<line x1="1574.7" y1="1176.9" x2="1592.7" y2="1176.9" stroke="#ff7f0e" stroke-width="3"/>
<line x1="1574.7" y1="1309.9" x2="1592.7" y2="1309.9" stroke="#ff7f0e" stroke-width="3"/>
<circle cx="1583.7" cy="1228.9" r="7.6" fill="#ff7f0e"/>
<line x1="1605.2" y1="1113.8" x2="1605.2" y2="1229.5" stroke="#2ca02c" stroke-width="3"/>
<line x1="1596.2" y1="1113.8" x2="1614.2" y2="1113.8" stroke="#2ca02c" stroke-width="3"/>
<line x1="1596.2" y1="1229.5" x2="1614.2" y2="1229.5" stroke="#2ca02c" stroke-width="3"/>
<circle cx="1605.2" cy="1161" r="7.6" fill="#2ca02c"/>
<line x1="1664.5" y1="1160" x2="1664.5" y2="1497.7" stroke="#999" stroke-width="1.6"/>
<line x1="1658" y1="1153.8" x2="1675.5" y2="1153.8" stroke="#999" stroke-width="1.6"/>
<line x1="1658" y1="1497.7" x2="1671" y2="1497.7" stroke="#999" stroke-width="1.6"/>
<path d="M1664.5,1155 L1659.5,1172 L1664.5,1168 L1669.5,1172 Z" fill="#999"/>
<text transform="translate(1689,1330) rotate(-90)" font-size="25" text-anchor="middle">Best DFT Calls Speed-up</text>
<text transform="translate(1722.5,1327) rotate(-90)" font-size="25" text-anchor="middle">vs. VASP CG</text>
</svg>
</body></html>
